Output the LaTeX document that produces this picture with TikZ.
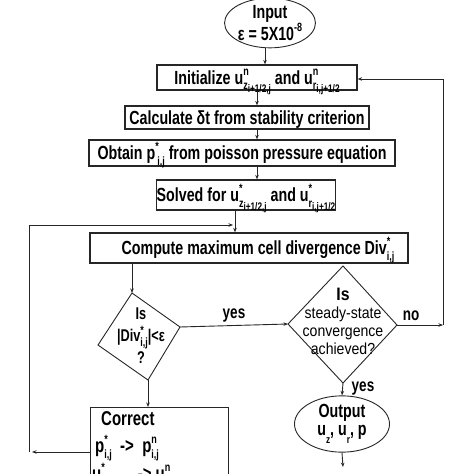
\documentclass[tikz,border=0pt]{standalone}
\usepackage{fontspec}
\setmainfont{Liberation Sans}[FakeStretch=0.75]
\newfontfamily\dfont{Liberation Sans}[FakeStretch=0.88]
\usetikzlibrary{shapes.geometric,arrows.meta}
\newcommand{\sm}{\fontsize{12}{12}\selectfont}
\newcommand{\both}[2]{\raisebox{.45em}{\rlap{\sm #1}}\raisebox{-.3em}{\sm #2}}
\newcommand{\lo}[1]{\raisebox{-.45em}{\fontsize{11}{11}\selectfont #1}}
\newcommand{\hi}[1]{\raisebox{.45em}{\sm #1}}
\begin{document}
\begin{tikzpicture}[x=1pt,y=-1pt,
  box/.style={draw=black!85,line width=1.3pt,inner sep=0pt,text height=13pt,text depth=0pt,
    font=\fontsize{19}{19}\selectfont\bfseries},
  txt/.style={inner sep=0pt,font=\fontsize{19}{19}\selectfont\bfseries},
  ell/.style={ellipse,draw=black!85,line width=0.9pt,inner sep=0pt,align=center,fill=white,
    font=\fontsize{19}{18}\selectfont\bfseries},
  dia/.style={draw=black!85,line width=0.9pt},
  arr/.style={-{Stealth[length=4.5pt,width=3.5pt]},line width=0.9pt,draw=black!85},
  ln/.style={line width=0.9pt,draw=black!85},
  lbl/.style={inner sep=0pt,font=\fontsize{18}{18}\selectfont\bfseries}]
\useasboundingbox (0,0) rectangle (474,474);
\clip (0,0) rectangle (474,474);
% top remnant
\fill[black!80] (250,0) rectangle (287,6);
\node[ell,minimum width=84pt,minimum height=42pt] (in) at (270,23) {Input\\ε = 5X10\hi{-8}};
% boxes
\node[box,minimum width=200pt,minimum height=25pt] (init) at (257,77.5)
  {Initialize u\both{n}{z}\lo{i+1/2,j} and u\both{n}{r}\lo{i,j+1/2}};
\node[box,minimum width=244pt,minimum height=23pt] (calc) at (247,117.5)
  {Calculate δt from stability criterion};
\node[box,minimum width=306pt,minimum height=26pt] (obt) at (242,153)
  {Obtain p\both{*}{\,i,j} from poisson pressure equation};
\node[box,minimum width=178pt,minimum height=30pt] (solv) at (246,195)
  {Solved for u\both{*}{z}\lo{i+1/2,j} and u\both{*}{r}\lo{i,j+1/2}};
\node[box,minimum width=318pt,minimum height=30pt] (comp) at (249,248) {};
\node[txt,text height=13pt,text depth=0pt] (comptxt) at (258,248) {Compute maximum cell divergence Div\both{*}{i,j}};
% diamond 1
\coordinate (d1t) at (132,293);
\coordinate (d1r) at (180,327);
\coordinate (d1b) at (148,380);
\coordinate (d1l) at (98,345);
\draw[dia] (d1t) -- (d1r) -- (d1b) -- (d1l) -- cycle;
\node[inner sep=0pt,align=center,font=\fontsize{17}{22}\selectfont\bfseries] (d1x) at (141,336)
  {Is\\|Div\both{*}{i,j}|<ε\\?};
% diamond 2
\coordinate (d2t) at (343,266);
\coordinate (d2r) at (397,325);
\coordinate (d2b) at (343,383);
\coordinate (d2l) at (288,324);
\draw[dia] (d2t) -- (d2r) -- (d2b) -- (d2l) -- cycle;
\node[inner sep=0pt,align=center,font=\dfont\fontsize{16}{18}\selectfont] (d2x) at (343,321)
  {{\fontsize{18}{18}\selectfont\bfseries Is}\\steady-state\\convergence\\achieved?};
% output
\node[ell,minimum width=95pt,minimum height=38pt] (out) at (342,424) {Output\\u\lo{z}, u\lo{r}, p};
% correct box
\node[box,minimum width=138pt,minimum height=100pt,anchor=north west] (corr) at (90,407) {};
\node[txt,anchor=base west,font=\fontsize{20}{20}\selectfont\bfseries] (c1) at (101,425) {Correct};
\node[txt,anchor=base west,font=\fontsize{20}{20}\selectfont\bfseries] (c2) at (95,452)
  {p\both{*}{i,j}\ \ -> \ p\both{n}{i,j}};
\node[txt,anchor=base west,font=\fontsize{20}{20}\selectfont\bfseries] (c3) at (92,480)
  {u\both{*}{z i+1/2,j} -> u\both{n}{z i+1/2,j}};
% connectors
\draw[arr] (in.south -| init.south) ++(8,0) coordinate (ia) -- (ia |- init.north);
\draw[arr] (init.south) -- (init.south |- calc.north);
\draw[arr] (calc.south -| init.south) -- (init.south |- obt.north);
\draw[arr] (obt.south -| init.south) -- (init.south |- solv.north);
\draw[arr] ([xshift=-11pt]solv.south) -- ([xshift=-11pt]solv.south |- comp.north);
\draw[arr] (comp.south -| d1t) -- (d1t);
\draw[arr] (d1r) -- (d2l);
\node[lbl] (yes1) at (234,316) {yes};
\draw[arr] (d1b) -- (d1b |- corr.north);
\draw[arr] (d2b) -- (out.north);
\node[lbl] (yes2) at (363,389) {yes};
\coordinate (oend) at (343,467);
\draw[arr] (out.south) -- (oend);
% right loop
\coordinate (rb) at (443,325);
\coordinate (rt) at (443,79);
\draw[arr] (d2r) -- (rb);
\node[lbl] (no) at (411,316) {no};
\draw[ln] (rb) -- (rt);
\draw[arr] (rt) -- (init.east |- rt);
% left loop
\coordinate (lb) at (29,452);
\coordinate (lt) at (29,225);
\coordinate (lend) at (233,225);
\draw[arr] (corr.west |- lb) -- ([xshift=3pt]lb);
\draw[ln] (lb) -- (lt);
\draw[arr] (lt) -- (lend);
\end{tikzpicture}
\end{document}
